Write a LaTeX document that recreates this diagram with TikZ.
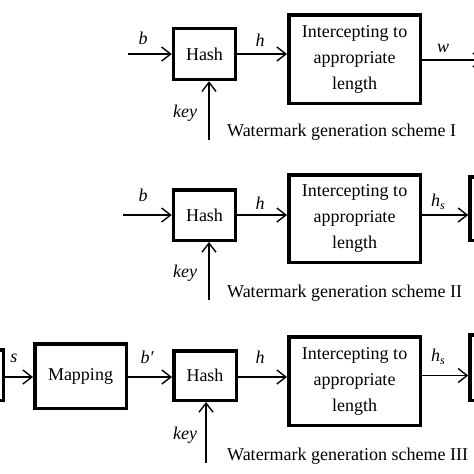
\documentclass[tikz,border=0pt]{standalone}
\usepackage{fontspec}
\setmainfont{Liberation Serif}
\usetikzlibrary{arrows.meta}
\begin{document}
\begin{tikzpicture}[x=1pt,y=-1pt,
  blk/.style={draw,line width=3.5pt,inner sep=0pt,align=center,
    font=\fontsize{18}{26}\selectfont},
  conn/.style={line width=1.4pt,-{Straight Barb[length=9pt,width=14pt]}},
  lbl/.style={font=\fontsize{18}{20}\selectfont\itshape,inner sep=0pt},
  captxt/.style={font=\fontsize{18}{20}\selectfont,anchor=west,inner sep=0pt}]
\useasboundingbox (0,0) rectangle (474,474);
\newcommand{\hsub}{\textit{h}{\fontsize{12}{12}\selectfont\raisebox{-3pt}{\textit{s}}}}
% ---- Row 1
\node[blk,minimum width=62pt,minimum height=51pt] (hash1) at (204.5,54) {Hash};
\node[blk,minimum width=131.5pt,minimum height=88.5pt] (int1) at (354.5,59) {Intercepting to\\appropriate\\length};
\coordinate (bin1) at (128,54);
\coordinate (wout1) at (483,60);
\coordinate (key1) at (209,140);
\draw[conn] (bin1) -- (hash1.west);
\draw[conn] (hash1.east) -- (hash1.east -| int1.west);
\draw[conn] (int1.east |- wout1) -- (wout1);
\draw[conn] (key1) -- (key1 |- hash1.south);
\node[lbl] (lb1) at (143,38) {b};
\node[lbl] (lh1) at (260,40) {h};
\node[lbl] (lw1) at (443,48) {w};
\node[lbl] (lk1) at (185,113) {key};
\node[captxt] (cap1) at (227,132) {Watermark generation scheme I};
% ---- Row 2
\node[blk,minimum width=62pt,minimum height=50.5pt] (hash2) at (204.5,215) {Hash};
\node[blk,minimum width=131.5pt,minimum height=87.5pt] (int2) at (354.5,218.5) {Intercepting to\\appropriate\\length};
\node[blk,minimum width=40pt,minimum height=63.5pt] (rb2) at (490,208.5) {};
\coordinate (bin2) at (123,215);
\coordinate (key2) at (209,300);
\draw[conn] (bin2) -- (hash2.west);
\draw[conn] (hash2.east) -- (hash2.east -| int2.west);
\draw[conn] (int2.east |- hash2.east) -- (hash2.east -| rb2.west);
\draw[conn] (key2) -- (key2 |- hash2.south);
\node[lbl] (lb2) at (143,195) {b};
\node[lbl] (lh2) at (260,203) {h};
\node[lbl] (lhs2) at (438,202) {\hsub};
\node[lbl] (lk2) at (185,273) {key};
\node[captxt] (cap2) at (227,293) {Watermark generation scheme II};
% ---- Row 3
\node[blk,minimum width=40pt,minimum height=50.5pt] (lb3) at (-16.5,375) {};
\node[blk,minimum width=91.5pt,minimum height=64.5pt] (map3) at (80.5,376) {Mapping};
\node[blk,minimum width=62.5pt,minimum height=49.5pt] (hash3) at (205,375.5) {Hash};
\node[blk,minimum width=131.5pt,minimum height=88.5pt] (int3) at (354.5,381) {Intercepting to\\appropriate\\length};
\node[blk,minimum width=40pt,minimum height=65.5pt] (rb3) at (490,367.5) {};
\coordinate (key3) at (206,463);
\coordinate (y3) at (0,377);
\draw[conn] (lb3.east |- y3) -- (map3.west |- y3);
\draw[conn] (map3.east |- y3) -- (hash3.west |- y3);
\draw[conn] (hash3.east |- y3) -- (int3.west |- y3);
\draw[conn] (int3.east |- hash3.east) -- (rb3.west |- hash3.east);
\draw[conn] (key3) -- (key3 |- hash3.south);
\node[lbl] (ls3) at (14,358) {s};
\node[lbl] (lbp3) at (147,357) {b\char"2032};
\node[lbl] (lh3) at (260,357) {h};
\node[lbl] (lhs3) at (438,357) {\hsub};
\node[lbl] (lk3) at (185,435) {key};
\node[captxt] (cap3) at (227,456) {Watermark generation scheme III};
\end{tikzpicture}
\end{document}
